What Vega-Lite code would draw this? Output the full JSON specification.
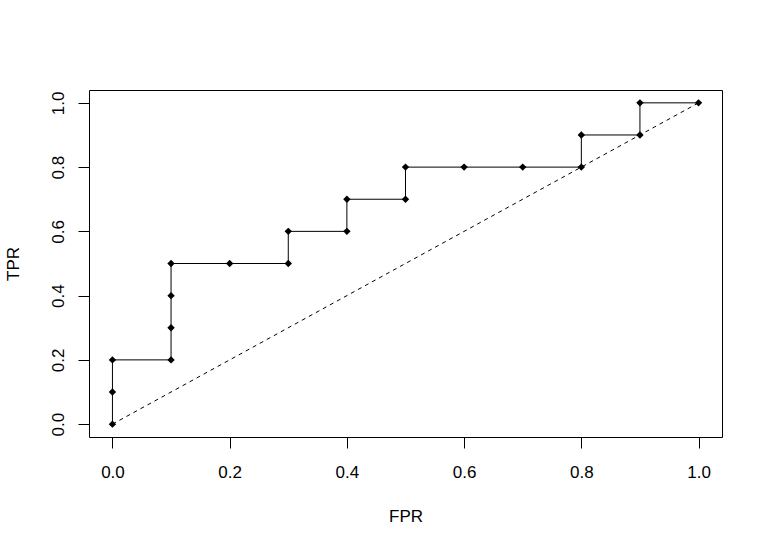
{
  "$schema": "https://vega.github.io/schema/vega-lite/v6.json",
  "width": 633,
  "height": 347,
  "autosize": {"type": "none"},
  "padding": {"left": 89, "top": 90, "right": 46, "bottom": 112},
  "background": "white",
  "config": {
    "view": {"stroke": "black", "strokeWidth": 1},
    "font": "Liberation Sans",
    "axis": {
      "domain": false,
      "grid": false,
      "tickColor": "black",
      "tickSize": 11,
      "tickWidth": 1,
      "labelFont": "Liberation Sans",
      "labelFontSize": 17,
      "labelColor": "black",
      "titleFont": "Liberation Sans",
      "titleFontSize": 17,
      "titleFontWeight": "normal",
      "titleColor": "black"
    }
  },
  "datasets": {
    "roc": [
      {"i": 1, "fpr": 0.0, "tpr": 0.0},
      {"i": 2, "fpr": 0.0, "tpr": 0.1},
      {"i": 3, "fpr": 0.0, "tpr": 0.2},
      {"i": 4, "fpr": 0.1, "tpr": 0.2},
      {"i": 5, "fpr": 0.1, "tpr": 0.3},
      {"i": 6, "fpr": 0.1, "tpr": 0.4},
      {"i": 7, "fpr": 0.1, "tpr": 0.5},
      {"i": 8, "fpr": 0.2, "tpr": 0.5},
      {"i": 9, "fpr": 0.3, "tpr": 0.5},
      {"i": 10, "fpr": 0.3, "tpr": 0.6},
      {"i": 11, "fpr": 0.4, "tpr": 0.6},
      {"i": 12, "fpr": 0.4, "tpr": 0.7},
      {"i": 13, "fpr": 0.5, "tpr": 0.7},
      {"i": 14, "fpr": 0.5, "tpr": 0.8},
      {"i": 15, "fpr": 0.6, "tpr": 0.8},
      {"i": 16, "fpr": 0.7, "tpr": 0.8},
      {"i": 17, "fpr": 0.8, "tpr": 0.8},
      {"i": 18, "fpr": 0.8, "tpr": 0.9},
      {"i": 19, "fpr": 0.9, "tpr": 0.9},
      {"i": 20, "fpr": 0.9, "tpr": 1.0},
      {"i": 21, "fpr": 1.0, "tpr": 1.0}
    ],
    "diag": [
      {"i": 1, "fpr": 0.0, "tpr": 0.0},
      {"i": 2, "fpr": 1.0, "tpr": 1.0}
    ]
  },
  "encoding": {
    "x": {
      "field": "fpr", "type": "quantitative",
      "scale": {"domain": [-0.04, 1.04], "nice": false, "zero": false},
      "axis": {
        "title": "FPR",
        "values": [0, 0.2, 0.4, 0.6, 0.8, 1.0],
        "format": ".1f",
        "labelBaseline": "alphabetic",
        "labelPadding": 29,
        "labelFlush": false,
        "labelOverlap": false,
        "titleBaseline": "alphabetic",
        "titleAnchor": "middle",
        "titleX": 316.5,
        "titleY": 84
      }
    },
    "y": {
      "field": "tpr", "type": "quantitative",
      "scale": {"domain": [-0.04, 1.04], "nice": false, "zero": false},
      "axis": {
        "title": "TPR",
        "values": [0, 0.2, 0.4, 0.6, 0.8, 1.0],
        "format": ".1f",
        "labelAngle": -90,
        "labelAlign": "center",
        "labelBaseline": "alphabetic",
        "labelPadding": 15,
        "labelFlush": false,
        "labelOverlap": false,
        "titleAngle": -90,
        "titleBaseline": "alphabetic",
        "titleAlign": "center",
        "titleX": -71,
        "titleY": 173.5
      }
    },
    "order": {"field": "i", "type": "quantitative"}
  },
  "layer": [
    {
      "data": {"name": "diag"},
      "mark": {"type": "line", "color": "black", "strokeWidth": 1, "strokeDash": [4, 4]}
    },
    {
      "data": {"name": "roc"},
      "mark": {"type": "line", "color": "black", "strokeWidth": 1}
    },
    {
      "data": {"name": "roc"},
      "mark": {"type": "point", "shape": "diamond", "filled": true, "color": "black", "opacity": 1, "size": 55}
    }
  ]
}
